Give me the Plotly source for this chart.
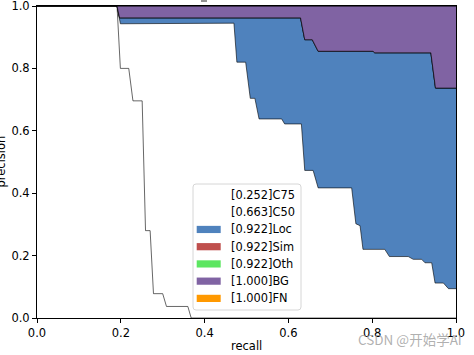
import plotly.graph_objects as go

# ---------------- data ----------------
recall_c75 = [0.0, 0.191, 0.199, 0.219, 0.229, 0.251, 0.259, 0.270, 0.278, 0.300, 0.309, 0.360, 0.368, 1.0]
prec_c75 = [1.0, 1.0, 0.80, 0.80, 0.696, 0.696, 0.28, 0.28, 0.078, 0.078, 0.037, 0.037, 0.0, 0.0]

recall_c50 = [0.0, 0.191, 0.199, 0.470, 0.477, 0.498, 0.509, 0.520, 0.530, 0.584, 0.591, 0.631,
              0.639, 0.659, 0.671, 0.751, 0.761, 0.771, 0.778, 0.830, 0.841, 0.886, 0.898, 0.918,
              0.926, 0.942, 0.950, 0.970, 0.982, 1.0]
prec_c50 = [1.0, 1.0, 0.943, 0.945, 0.820, 0.820, 0.704, 0.704, 0.638, 0.638, 0.622, 0.622,
            0.473, 0.473, 0.417, 0.417, 0.302, 0.296, 0.220, 0.220, 0.197, 0.197, 0.188, 0.188,
            0.177, 0.177, 0.112, 0.112, 0.094, 0.094]

recall_loc = [0.0, 0.191, 0.197, 0.629, 0.639, 0.657, 0.671, 0.802, 0.806, 0.940, 0.951, 1.0]
prec_loc = [1.0, 1.0, 0.962, 0.962, 0.892, 0.892, 0.855, 0.855, 0.850, 0.850, 0.737, 0.737]

recall_sim = recall_loc
prec_sim = prec_loc
recall_oth = recall_loc
prec_oth = prec_loc
recall_bg = [0.0, 1.0]
prec_bg = [1.0, 1.0]
recall_fn = [0.0, 1.0]
prec_fn = [1.0, 1.0]

types = ["C75", "C50", "Loc", "Sim", "Oth", "BG", "FN"]
aps = [0.252, 0.663, 0.922, 0.922, 0.922, 1.000, 1.000]
colors = ["rgb(255,255,255)", "rgb(255,255,255)", "rgb(79,130,189)", "rgb(191,79,77)",
          "rgb(92,230,97)", "rgb(128,99,163)", "rgb(255,153,0)"]
curves = [(recall_c75, prec_c75), (recall_c50, prec_c50), (recall_loc, prec_loc),
          (recall_sim, prec_sim), (recall_oth, prec_oth), (recall_bg, prec_bg), (recall_fn, prec_fn)]

tick_vals = [0.0, 0.2, 0.4, 0.6, 0.8, 1.0]
tick_text = ["0.0", "0.2", "0.4", "0.6", "0.8", "1.0"]

# ---------------- layout geometry ----------------
W, H = 474, 355
L, R, T, B = 37, 18, 6, 37
PW, PH = W - L - R, H - T - B
FONT = "DejaVu Sans"


def px(x):
    return (x - L) / PW


def py(y):
    return (H - B - y) / PH


fig = go.Figure()
fig.add_trace(go.Scatter(x=[0.0, 1.0], y=[0.0, 0.0], mode="lines",
                         line=dict(width=0, color="rgba(0,0,0,0)"), showlegend=False, hoverinfo="skip"))
for k, (rx, ry) in enumerate(curves):
    fig.add_trace(go.Scatter(
        x=rx, y=ry, mode="lines", fill="tonexty", fillcolor=colors[k],
        line=dict(color="black", width=0.6), showlegend=False,
        name=f"[{aps[k]:.3f}]{types[k]}"))

shapes = []
annotations = []

# legend box (rounded)
x0, x1, y0, y1 = px(193), px(301), py(310), py(184)
rx, ry = 3 / PW, 3 / PH
path = (f"M{x0+rx},{y1} L{x1-rx},{y1} Q{x1},{y1} {x1},{y1-ry} L{x1},{y0+ry} "
        f"Q{x1},{y0} {x1-rx},{y0} L{x0+rx},{y0} Q{x0},{y0} {x0},{y0+ry} "
        f"L{x0},{y1-ry} Q{x0},{y1} {x0+rx},{y1} Z")
shapes.append(dict(type="path", path=path, xref="paper", yref="paper",
                   fillcolor="rgba(255,255,255,0.8)", line=dict(color="rgb(214,214,214)", width=1)))

entry_y0, entry_dy = 195.0, 17.23
for k in range(len(types)):
    cy = entry_y0 + k * entry_dy
    shapes.append(dict(type="rect", xref="paper", yref="paper",
                       x0=px(196.7), x1=px(220.7), y0=py(cy + 3.6), y1=py(cy - 3.6),
                       fillcolor=colors[k], line=dict(width=0)))
    annotations.append(dict(x=px(228.5), y=py(cy), xref="paper", yref="paper",
                            text=f"[{aps[k]:.3f}]{types[k]}", showarrow=False,
                            xanchor="left", yanchor="middle",
                            font=dict(family=FONT, size=11.4, color="black")))

# axis labels
annotations.append(dict(x=0.5, y=py(346.5), xref="paper", yref="paper", text="recall",
                        showarrow=False, xanchor="center", yanchor="middle",
                        font=dict(family=FONT, size=11.5, color="black")))
annotations.append(dict(x=px(0.5), y=0.5, xref="paper", yref="paper", text="precision",
                        showarrow=False, xanchor="center", yanchor="middle", textangle=-90,
                        font=dict(family=FONT, size=11.5, color="black")))
# watermark
annotations.append(dict(x=px(464), y=py(339), xref="paper", yref="paper", text="CSDN @开始学AI",
                        showarrow=False, xanchor="right", yanchor="middle",
                        font=dict(family="Noto Sans CJK SC", size=13.5, color="rgba(150,150,150,0.75)")))
# clipped title remnant
shapes.append(dict(type="line", xref="paper", yref="paper", x0=px(201), x1=px(207),
                   y0=py(1), y1=py(1), line=dict(color="rgb(110,110,110)", width=1.5)))

fig.update_layout(
    width=W, height=H,
    margin=dict(l=L, r=R, t=T, b=B, pad=0, autoexpand=False),
    paper_bgcolor="white", plot_bgcolor="white",
    showlegend=False,
    font=dict(family=FONT, size=11.5, color="black"),
    shapes=shapes, annotations=annotations,
)
axis_common = dict(range=[0, 1], tickvals=tick_vals, ticktext=tick_text, ticks="outside",
                   ticklen=4, tickwidth=1, tickcolor="black", showline=True, linecolor="black",
                   linewidth=1, mirror=True, showgrid=False, zeroline=False, automargin=False,
                   ticklabeloverflow="allow",
                   tickfont=dict(family=FONT, size=11.5, color="black"))
fig.update_xaxes(**axis_common)
fig.update_yaxes(**axis_common)

fig.write_html("out.html", config={"displayModeBar": False},
               post_script="document.body.style.margin='0';document.body.style.padding='0';")
